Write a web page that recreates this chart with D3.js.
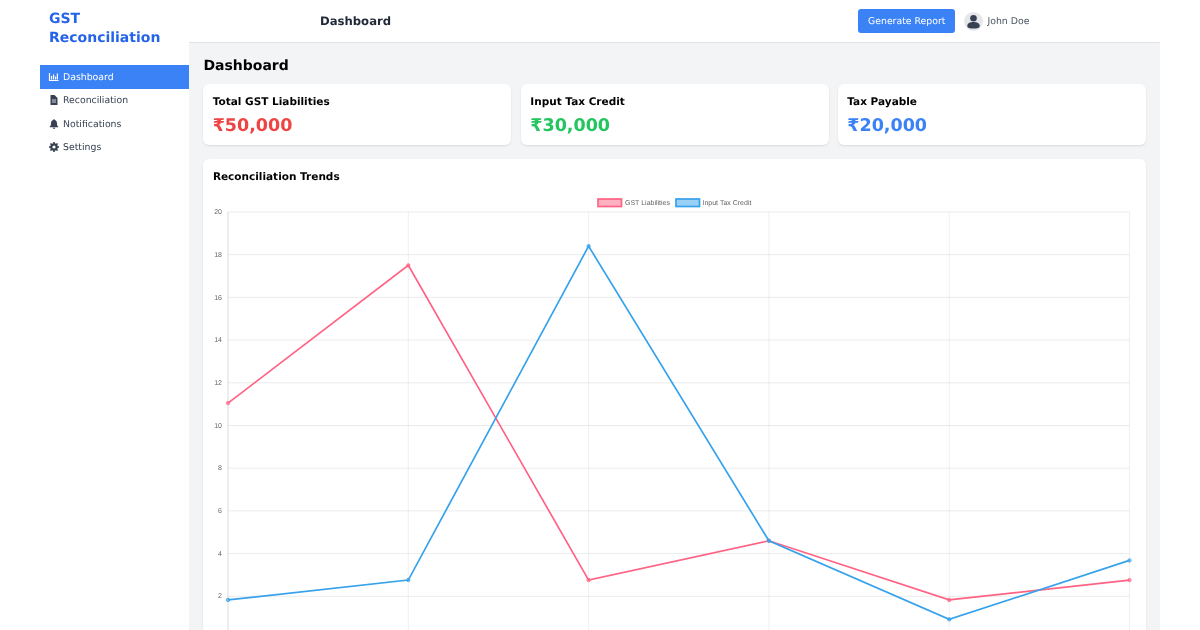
<!DOCTYPE html>
<html><head><meta charset="utf-8"><title>GST Reconciliation Dashboard</title>
<script src="https://cdn.jsdelivr.net/npm/d3@7/dist/d3.min.js"></script>
<style>
html,body{margin:0;padding:0;width:1200px;height:630px;overflow:hidden;background:#fff;font-family:"DejaVu Sans",sans-serif;text-rendering:geometricPrecision}
#app{position:absolute;left:0;top:0;width:1200px;height:630px;overflow:hidden;will-change:transform}
.abs,.abs *{box-sizing:border-box}
.abs{position:absolute;white-space:nowrap}
.card{background:#fff;border-radius:6px;box-shadow:0 1px 2px rgba(0,0,0,.06),0 1px 3px rgba(0,0,0,.05)}
.nav{color:#374151;font-size:9.33px;line-height:12px}
svg text{font-family:"Liberation Sans",Arial,sans-serif}
</style></head><body>
<div id="app"></div>
<script>
const navItems=["Dashboard","Reconciliation","Notifications","Settings"];
const cardTitles=["Total GST Liabilities","Input Tax Credit","Tax Payable"];
const cardValues=["₹50,000","₹30,000","₹20,000"];
const cardColors=["#ef4444","#22c55e","#3b82f6"];
const categories=["P1","P2","P3","P4","P5","P6"];
const gstValues=[11.05,17.5,2.76,4.6,1.83,2.76];
const itcValues=[1.83,2.76,18.4,4.6,0.92,3.68];
const yTicks=[2,4,6,8,10,12,14,16,18,20];

const app=d3.select("#app");
function box(x,y,w,h,cls){return app.append("div").attr("class","abs "+(cls||"")).style("left",x+"px").style("top",y+"px").style("width",w+"px").style("height",h+"px");}
function text(x,y,t,size,weight,color,lh){return app.append("div").attr("class","abs").style("left",x+"px").style("top",y+"px").style("font-size",size+"px").style("font-weight",weight).style("color",color).style("line-height",(lh||size*1.2)+"px").text(t);}

// shell
box(189,0,971,630).style("background","#f3f4f6");
box(189,0,971,43).style("background","#fff").style("border-bottom","1px solid #e0e2e6");
text(49,10,"GST",14,700,"#2563eb",19);
text(49,29,"Reconciliation",14,700,"#2563eb",19);
box(40,65,149,24).style("background","#3b82f6");

const icons=[
 (g,c)=>{g.append("path").attr("d","M0.5 1V8.5H9.5").attr("fill","none").attr("stroke",c).attr("stroke-width",1.2);
   [[2,4,1.2,3.5],[4,2.5,1.2,5],[6,4.5,1.2,3],[7.8,1.5,1.2,6]].forEach(r=>g.append("rect").attr("x",r[0]).attr("y",r[1]).attr("width",r[2]).attr("height",r[3]).attr("fill",c));},
 (g,c)=>{g.append("path").attr("d","M1.5 0H5.5L8.5 3V10H1.5Z").attr("fill",c);g.append("path").attr("d","M3 5H7M3 7H7").attr("stroke","#fff").attr("stroke-width",.8);},
 (g,c)=>{g.append("path").attr("d","M5 0.3C5.6 .3 5.8 .8 5.8 1.1C7.4 1.5 8 2.8 8 4.4C8 6 8.4 6.8 9.2 7.6V8.3H.8V7.6C1.6 6.8 2 6 2 4.4C2 2.8 2.6 1.5 4.2 1.1C4.2 .8 4.4 .3 5 .3ZM3.8 8.8H6.2C6.2 9.5 5.7 10 5 10C4.3 10 3.8 9.5 3.8 8.8Z").attr("fill",c);},
 (g,c)=>{g.append("circle").attr("cx",5).attr("cy",5).attr("r",2.7).attr("fill","none").attr("stroke",c).attr("stroke-width",2.2);
   d3.range(8).forEach(i=>g.append("rect").attr("x",4.2).attr("y",0).attr("width",1.6).attr("height",2).attr("fill",c).attr("transform",`rotate(${i*45} 5 5)`));}
];
navItems.forEach((n,i)=>{
  const y=71.7+i*23.4, c=i===0?"#fff":"#374151";
  app.append("div").attr("class","abs nav").style("left","63px").style("top",y+"px").style("color",c).text(n);
  const s=app.append("svg").attr("class","abs").style("left","49.2px").style("top",(y+.3)+"px").attr("width",10).attr("height",10).attr("viewBox","0 0 10 10").style("overflow","visible");
  icons[i](s,c);
});

// header
text(320,13.7,"Dashboard",11.67,700,"#1f2937",14);
box(858,9,97,24).style("background","#3b82f6").style("border-radius",3+"px");
text(868,15.6,"Generate Report",9.33,400,"#fff",12);
const av=app.append("svg").attr("class","abs").style("left","964px").style("top","12px").attr("width",19).attr("height",19);
av.append("circle").attr("cx",9.5).attr("cy",9.5).attr("r",9.5).attr("fill","#e5e7eb");
av.append("circle").attr("cx",9.5).attr("cy",6.2).attr("r",3.3).attr("fill","#374151");
av.append("path").attr("d","M3.3 14C3.3 11 6 10 9.5 10C13 10 15.7 11 15.7 14C15.7 16 13 16.5 9.5 16.5C6 16.5 3.3 16 3.3 14Z").attr("fill","#374151");
text(987.5,15.6,"John Doe",9.33,400,"#4b5563",12);

// page title and cards
text(203.4,56.8,"Dashboard",14,700,"#000",18);
[203,521,838].forEach((x,i)=>{
  box(x,84,308,61,"card");
  text(x+(i===0?9.7:9.3),95,cardTitles[i],10.5,700,"#000",14);
  text(x+(i===0?9.7:9.3),114.8,cardValues[i],17.5,700,cardColors[i],22);
});
box(203,159,943,480,"card");
text(212.9,169.5,"Reconciliation Trends",10.5,700,"#000",14);

// chart
const svg=app.append("svg").attr("class","abs").style("left","0").style("top","0").attr("width",1200).attr("height",630);
const x=d3.scalePoint().domain(categories).range([228,1129.5]);
const y=d3.scaleLinear().domain([0,20]).range([639.0,212.0]);
const grid=svg.append("g");
grid.selectAll(".h").data(yTicks).join("line").attr("x1",x.range()[0]).attr("x2",x.range()[1]).attr("y1",d=>y(d)).attr("y2",d=>y(d)).attr("stroke","rgba(0,0,0,0.08)").attr("stroke-width",1);
grid.selectAll(".v").data(categories).join("line").attr("x1",d=>x(d)).attr("x2",d=>x(d)).attr("y1",y(20)).attr("y2",y(0)).attr("stroke","rgba(0,0,0,0.06)").attr("stroke-width",1);
grid.append("line").attr("x1",x.range()[0]).attr("x2",x.range()[0]).attr("y1",y(20)).attr("y2",y(0)).attr("stroke","rgba(0,0,0,0.09)").attr("stroke-width",1);
const yAxis=d3.axisLeft(y).tickValues(yTicks).tickSize(0).tickPadding(6);
const ya=svg.append("g").attr("transform",`translate(${x.range()[0]},-0.6)`).call(yAxis);
ya.select(".domain").remove();
ya.selectAll("text").attr("font-size",7).attr("fill","#666").attr("font-family","'Liberation Sans',Arial,sans-serif");

const series=[{name:"GST Liabilities",values:gstValues,c:"#ff6384",f:"rgba(255,99,132,.5)"},{name:"Input Tax Credit",values:itcValues,c:"#36a2eb",f:"rgba(54,162,235,.5)"}];
const line=d3.line().x((d,i)=>x(categories[i])).y(d=>y(d));
series.forEach(s=>{
  svg.append("path").attr("d",line(s.values)).attr("fill","none").attr("stroke",s.c).attr("stroke-width",1.7);
  svg.selectAll(null).data(s.values).join("circle").attr("cx",(d,i)=>x(categories[i])).attr("cy",d=>y(d)).attr("r",1.7).attr("fill",s.f).attr("stroke",s.c).attr("stroke-width",.8);
});
// legend
[[598,"GST Liabilities",625],[676,"Input Tax Credit",702.5]].forEach((l,i)=>{
  svg.append("rect").attr("x",l[0]).attr("y",199).attr("width",23.5).attr("height",7.5).attr("fill",series[i].f).attr("stroke",series[i].c).attr("stroke-width",1.7);
  svg.append("text").attr("x",l[2]).attr("y",205.2).attr("font-size",7).attr("fill","#666").text(l[1]);
});
</script></body></html>
